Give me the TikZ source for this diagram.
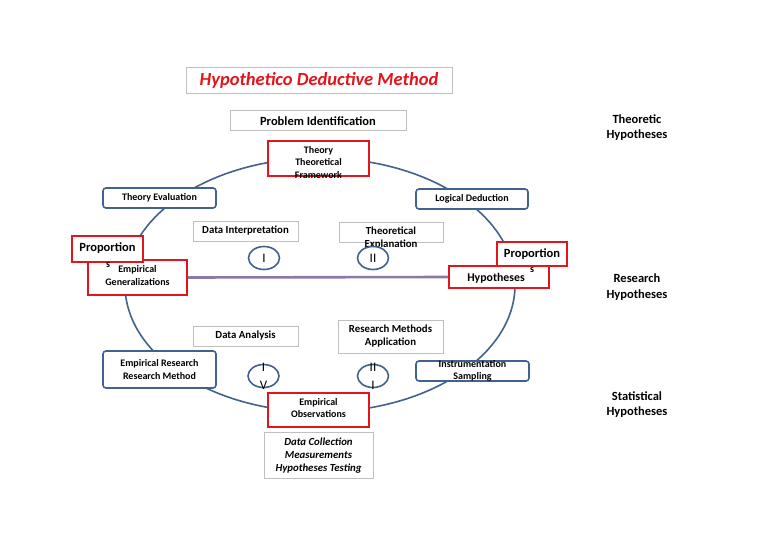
\documentclass[tikz,border=0pt]{standalone}
\usepackage{fontspec}
\setmainfont{Carlito}
\usetikzlibrary{shapes.geometric}
\definecolor{ellblue}{HTML}{41628F}
\definecolor{boxred}{HTML}{E3141C}
\definecolor{boxgray}{HTML}{BFBFBF}
\definecolor{linepurple}{HTML}{8A78A8}
\begin{document}
\begin{tikzpicture}[x=1pt,y=-1pt,
  redbox/.style={draw=boxred, line width=1.8pt, fill=white, inner sep=0pt},
  bluebox/.style={draw=ellblue, line width=1.6pt, fill=white, rounded corners=3pt, inner sep=0pt},
  graybox/.style={draw=boxgray, line width=0.8pt, fill=white, inner sep=0pt},
  numc/.style={draw=ellblue, line width=1.6pt, fill=white, ellipse, inner sep=0pt, minimum width=31pt, minimum height=23pt},
  txt/.style={align=center, inner sep=0pt, font=\bfseries\fontsize{10}{12.5}\selectfont},
  mid/.style={align=center, inner sep=0pt, font=\bfseries\fontsize{10.8}{13}\selectfont},
  big/.style={align=center, inner sep=0pt, font=\bfseries\fontsize{12.5}{15.5}\selectfont},
  roman/.style={inner sep=0pt, font=\fontsize{13}{13}\selectfont}]
\useasboundingbox (0,0) rectangle (768,543);
% cycle
\draw[ellblue, line width=1.6pt] (320,285) ellipse [x radius=195, y radius=127];
% title
\node[graybox, minimum width=266pt, minimum height=26pt] (title) at (319,80) {};
\node[inner sep=0pt, text=boxred, font=\bfseries\itshape\fontsize{18.5}{20}\selectfont] (titleT) at (319,80) {Hypothetico Deductive Method};
\node[graybox, minimum width=176pt, minimum height=20pt] (prob) at (318,120) {};
\node[big] (probT) at (318,121) {Problem Identification};
% theory
\node[redbox, minimum width=101pt, minimum height=35pt] (theory) at (318.5,158.5) {};
\node[txt] (theoryT) at (318.5,162.5) {Theory\\Theoretical\\Framework};
% blue boxes
\node[bluebox, minimum width=113pt, minimum height=20pt] (tev) at (159.5,198) {};
\node[txt] (tevT) at (159.5,198) {Theory Evaluation};
\node[bluebox, minimum width=112pt, minimum height=20pt] (logd) at (472,199) {};
\node[txt] (logdT) at (472,199) {Logical Deduction};
\node[bluebox, minimum width=113pt, minimum height=37pt] (empR) at (159.5,369.5) {};
\node[txt] (empRT) at (159.5,369.5) {Empirical Research\\Research Method};
\node[bluebox, minimum width=113pt, minimum height=20pt] (instr) at (472.5,371) {};
\node[txt] (instrT) at (472.5,371) {Instrumentation\\Sampling};
% gray boxes inside
\node[graybox, minimum width=105pt, minimum height=20pt] (dint) at (245.5,231) {};
\node[mid] (dintT) at (245.5,231) {Data Interpretation};
\node[graybox, minimum width=104pt, minimum height=20pt] (texp) at (391,232) {};
\node[mid] (texpT) at (391,238.5) {Theoretical\\Explanation};
\node[graybox, minimum width=105pt, minimum height=20pt] (dana) at (245.5,336) {};
\node[mid] (danaT) at (245.5,336) {Data Analysis};
\node[graybox, minimum width=105pt, minimum height=33pt] (rma) at (390.5,336.5) {};
\node[mid] (rmaT) at (390.5,336.5) {Research Methods\\Application};
% numbered circles
\node[numc] (c1) at (264,258) {};
\node[roman] (c1T) at (264,258) {I};
\node[numc] (c2) at (373,258) {};
\node[roman] (c2T) at (373,258) {II};
\node[numc] (c4) at (263.5,376) {};
\node[roman] (c4a) at (263.5,367) {I};
\node[roman] (c4b) at (263.5,385) {V};
\node[numc] (c3) at (373,376) {};
\node[roman] (c3a) at (373,367) {II};
\node[roman] (c3b) at (373,385) {I};
% left red boxes
\node[redbox, minimum width=99pt, minimum height=35pt] (empG) at (137.5,277.5) {};
\node[redbox, minimum width=71pt, minimum height=26pt] (propL) at (107.5,249) {};
\node[big] (propLT) at (107.5,248.5) {Proportion};
\node[inner sep=0pt, font=\bfseries\fontsize{10}{10}\selectfont] (propLs) at (108,265) {s};
\node[txt] (empGT) at (137.5,275.5) {Empirical\\Generalizations};
% right red boxes
\node[redbox, minimum width=70pt, minimum height=24pt] (propR) at (532,254) {};
\node[big] (propRT) at (532,254) {Proportion};
\node[redbox, minimum width=100pt, minimum height=22pt] (hyp) at (499,277) {};
\node[inner sep=0pt, font=\bfseries\fontsize{11.8}{14}\selectfont] (hypT) at (496,278) {Hypotheses};
\node[inner sep=0pt, font=\bfseries\fontsize{10}{10}\selectfont] (hyps) at (532,270) {s};
% purple connector
\draw[linepurple, line width=2.6pt] (empG.east) -- (hyp.west);
% bottom
\node[redbox, minimum width=101pt, minimum height=34pt] (empO) at (318.5,410) {};
\node[txt] (empOT) at (318.5,408) {Empirical\\Observations};
\node[graybox, minimum width=109pt, minimum height=46pt] (dcol) at (318.5,455) {};
\node[align=center, inner sep=0pt, font=\bfseries\itshape\fontsize{10.8}{13}\selectfont] (dcolT) at (318.5,456) {Data Collection\\Measurements\\Hypotheses Testing};
% right labels
\node[big] (rl1) at (637,127.5) {Theoretic\\Hypotheses};
\node[big] (rl2) at (637,287) {Research\\Hypotheses};
\node[big] (rl3) at (637,404.5) {Statistical\\Hypotheses};
\end{tikzpicture}
\end{document}
